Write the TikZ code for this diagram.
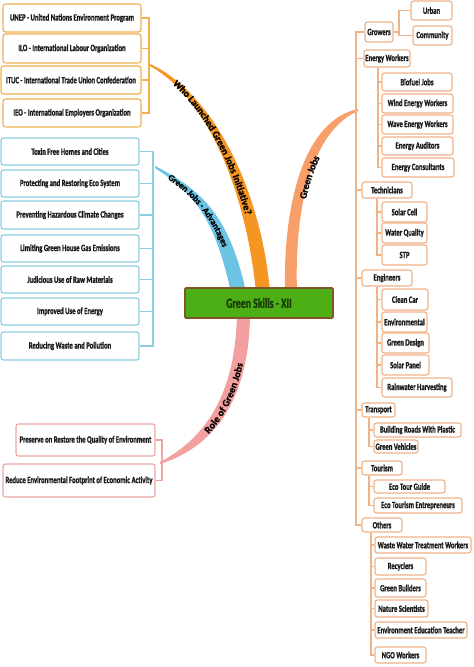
\documentclass[tikz,border=0pt]{standalone}
\usepackage{fontspec}
\setmainfont{Carlito}[FakeStretch=0.7, BoldFeatures={FakeBold=1.2}]
\newfontfamily\labfont{Carlito}[BoldFeatures={FakeBold=0.6}]
\usetikzlibrary{decorations.text}
\definecolor{ob}{RGB}{245,150,35}
\definecolor{ol}{RGB}{240,175,80}
\definecolor{bb}{RGB}{108,196,228}
\definecolor{bl}{RGB}{140,205,225}
\definecolor{pb}{RGB}{245,160,160}
\definecolor{pl}{RGB}{235,165,165}
\definecolor{rb}{RGB}{248,158,105}
\definecolor{rl}{RGB}{240,178,135}
\definecolor{cg}{RGB}{76,175,22}
\definecolor{cb}{RGB}{130,85,40}
\definecolor{ct}{RGB}{25,60,10}
\definecolor{tx}{RGB}{25,25,25}
\newcommand\boxfont{\bfseries\fontsize{9.5}{10}\selectfont}
\newcommand\centfont{\bfseries\fontsize{14}{16}\selectfont}
\newcommand\mylabA{\labfont\bfseries\fontsize{10}{12}\selectfont}
\newcommand\mylabB{\labfont\bfseries\fontsize{9}{11}\selectfont}
\tikzset{
  box/.style={draw, rounded corners=2.5pt, fill=white, line width=1.1pt, inner sep=0pt, align=center, font=\boxfont, text=tx},
  wh/.style 2 args={minimum width=#1pt, minimum height=#2pt},
  obox/.style={box, draw=ol}, bbox/.style={box, draw=bl},
  pbox/.style={box, draw=pl}, rbox/.style={box, draw=rl},
  oline/.style={draw=ol, line width=1.1pt}, bline/.style={draw=bl, line width=1.1pt},
  pline/.style={draw=pl, line width=1.1pt}, rline/.style={draw=rl, line width=1.1pt},
  labpath/.style={decorate}
}
\begin{document}
\begin{tikzpicture}[x=1pt,y=-1pt]
\useasboundingbox (0,0) rectangle (474,667);

% bands
\fill[ob] (150,64) .. controls (212,92) and (261,188) .. (270,292) -- (256,292) .. controls (246,192) and (208,98) .. (150,66) -- cycle;
\fill[bb] (155,166) .. controls (203,190) and (230,218) .. (246,292) -- (231,292) .. controls (215,222) and (198,196) .. (155,168) -- cycle;
\fill[rb] (285,292) .. controls (283,198) and (306,120) .. (358,109) -- (358,111) .. controls (314,130) and (294,202) .. (297,292) -- cycle;
\fill[pb] (250,312) .. controls (250,392) and (220,445) .. (160,464) -- (160,462) .. controls (210,436) and (236,388) .. (237,312) -- cycle;

\path[labpath, decoration={text along path, text={|\mylabA|Who Launched Green Jobs Initiative?}, text align={left indent=30pt}, raise=-3.5pt}] (150,65) .. controls (210,95) and (253,190) .. (263,290);
\path[labpath, decoration={text along path, text={|\mylabB|Green Jobs - Advantages}, text align={left indent=17pt}, raise=-3.5pt}] (155,167) .. controls (200,193) and (222,220) .. (240,290);
\path[labpath, decoration={text along path, text={|\mylabA|Role of Green Jobs}, text align={left indent=56pt}, raise=-4pt}] (160,463) .. controls (215,440) and (243,390) .. (244,316);
\path[labpath, decoration={text along path, text={|\mylabA|Green Jobs}, text align={left indent=93pt}, raise=-8pt}] (291,290) .. controls (288,200) and (310,125) .. (358,110);

% center
\node[draw=cb, fill=cg, line width=1.6pt, wh={148}{30}, font=\centfont, text=ct, rounded corners=1pt] (c) at (259,303) {Green Skills - XII};

% left orange
\node[obox, wh={138}{28}] (o1) at (72,18) {UNEP - United Nations Environment Program};
\node[obox, wh={138}{29}] (o2) at (72,48.5) {ILO - International Labour Organization};
\node[obox, wh={140}{28}] (o3) at (71,80) {ITUC - International Trade Union Confederation};
\node[obox, wh={138}{28}] (o4) at (72,113) {IEO - International Employers Organization};
\coordinate (oj) at (149,65);
\draw[oline] (o1.east) -- (o1.east -| oj) -- (o4.east -| oj) -- (o4.east);
\draw[oline] (o2.east) -- (o2.east -| oj);
\draw[oline] (o3.east) -- (o3.east -| oj);

% left blue
\node[bbox, wh={138}{27}] (b1) at (70,151.5) {Toxin Free Homes and Cities};
\node[bbox, wh={138}{27}] (b2) at (70,183.5) {Protecting and Restoring Eco System};
\node[bbox, wh={138}{28}] (b3) at (70,215) {Preventing Hazardous Climate Changes};
\node[bbox, wh={138}{27}] (b4) at (70,248.5) {Limiting Green House Gas Emissions};
\node[bbox, wh={138}{27}] (b5) at (70,279.5) {Judicious Use of Raw Materials};
\node[bbox, wh={138}{27}] (b6) at (70,311.5) {Improved Use of Energy};
\node[bbox, wh={138}{28}] (b7) at (70,346) {Reducing Waste and Pollution};
\coordinate (bj) at (153,167);
\draw[bline] (b1.east) -- (b1.east -| bj) -- (b7.east -| bj) -- (b7.east);
\foreach \n in {b2,b3,b4,b5,b6} \draw[bline] (\n.east) -- (\n.east -| bj);

% left pink
\node[pbox, wh={139}{32}] (p1) at (85.5,440) {Preserve on Restore the Quality of Environment};
\node[pbox, wh={152}{33}] (p2) at (79,480.5) {Reduce Environmental Footprint of Economic Activity};
\coordinate (pj) at (162,463);
\draw[pline] (p1.east) -- (p1.east -| pj) -- (p2.east -| pj) -- (p2.east);

% right tree
\node[rbox, wh={28}{20}] (gr) at (379,32) {Growers};
\node[rbox, wh={41}{19}] (ur) at (431.5,10.5) {Urban};
\node[rbox, wh={39}{19}] (co) at (432.5,35.5) {Community};
\coordinate (gx) at (399,32);
\draw[rline] (gr.east) -- (gx);
\draw[rline] (ur.west) -- (ur.west -| gx) -- (co.west -| gx) -- (co.west);

\node[rbox, wh={46}{17}] (ew) at (387,58.5) {Energy Workers};
\node[rbox, wh={70}{18}] (e1) at (417,82) {Biofuel Jobs};
\node[rbox, wh={71}{19}] (e2) at (417.5,103.5) {Wind Energy Workers};
\node[rbox, wh={71}{19}] (e3) at (417.5,124.5) {Wave Energy Workers};
\node[rbox, wh={71}{18}] (e4) at (417.5,146) {Energy Auditors};
\node[rbox, wh={72}{19}] (e5) at (418,167.5) {Energy Consultants};
\coordinate (ex) at (378,0);
\draw[rline] (ew.south -| ex) -- (e5.west -| ex) -- (e5.west);
\foreach \n in {e1,e2,e3,e4} \draw[rline] (\n.west -| ex) -- (\n.west);

\node[rbox, wh={50}{16}] (te) at (387,190) {Technicians};
\node[rbox, wh={45}{20}] (t1) at (404.5,212) {Solar Cell};
\node[rbox, wh={45}{20}] (t2) at (404.5,233) {Water Quality};
\node[rbox, wh={45}{20}] (t3) at (404.5,255) {STP};
\coordinate (tx) at (377,0);
\draw[rline] (te.south -| tx) -- (t3.west -| tx) -- (t3.west);
\foreach \n in {t1,t2} \draw[rline] (\n.west -| tx) -- (\n.west);

\node[rbox, wh={50}{16}] (en) at (387,278) {Engineers};
\node[rbox, wh={46}{21}] (n1) at (405,299.5) {Clean Car};
\node[rbox, wh={45}{20}] (n2) at (404.5,322) {Environmental};
\node[rbox, wh={47}{20}] (n3) at (405.5,343) {Green Design};
\node[rbox, wh={47}{20}] (n4) at (405.5,365) {Solar Panel};
\node[rbox, wh={70}{19}] (n5) at (417,387.5) {Rainwater Harvesting};
\draw[rline] (en.south -| tx) -- (n5.west -| tx) -- (n5.west);
\foreach \n in {n1,n2,n3,n4} \draw[rline] (\n.west -| tx) -- (\n.west);

\node[rbox, wh={33}{14}] (tr) at (378.5,410) {Transport};
\node[rbox, wh={87}{14}] (r1) at (417.5,430) {Building Roads With Plastic};
\node[rbox, wh={44}{13}] (r2) at (396,446.5) {Green Vehicles};
\coordinate (rx) at (369,0);
\draw[rline] (tr.south -| rx) -- (r2.west -| rx) -- (r2.west);
\draw[rline] (r1.west -| rx) -- (r1.west);

\node[rbox, wh={40}{14}] (to) at (382,468) {Tourism};
\node[rbox, wh={71}{13}] (u1) at (409.5,486.5) {Eco Tour Guide};
\node[rbox, wh={88}{15}] (u2) at (418,505.5) {Eco Tourism Entrepreneurs};
\draw[rline] (to.south -| rx) -- (u2.west -| rx) -- (u2.west);
\draw[rline] (u1.west -| rx) -- (u1.west);

\node[rbox, wh={40}{14}] (ot) at (382,525) {Others};
\node[rbox, wh={96}{16}] (w1) at (423,545) {Waste Water Treatment Workers};
\node[rbox, wh={51}{17}] (w2) at (400.5,566.5) {Recyclers};
\node[rbox, wh={51}{18}] (w3) at (400.5,588) {Green Builders};
\node[rbox, wh={53}{17}] (w4) at (401.5,608.5) {Nature Scientists};
\node[rbox, wh={92}{16}] (w5) at (421,630) {Environment Education Teacher};
\node[rbox, wh={51}{16}] (w6) at (400.5,655) {NGO Workers};
\coordinate (wx) at (371,0);
\draw[rline] (ot.south -| wx) -- (w6.west -| wx) -- (w6.west);
\foreach \n in {w1,w2,w3,w4,w5} \draw[rline] (\n.west -| wx) -- (\n.west);

% main right spine
\coordinate (rj) at (356,110);
\draw[rline] (gr.west) -- (gr.west -| rj) -- (ot.west -| rj) -- (ot.west);
\foreach \n in {ew,te,en,tr,to} \draw[rline] (\n.west -| rj) -- (\n.west);
\end{tikzpicture}
\end{document}
